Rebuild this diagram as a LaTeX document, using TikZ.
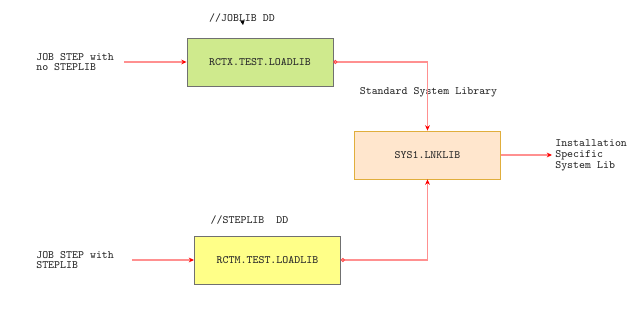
\documentclass[tikz,border=0pt]{standalone}
\usetikzlibrary{arrows.meta,positioning}
\definecolor{jlgreen}{HTML}{CFEA8D}
\definecolor{slyellow}{HTML}{FFFF88}
\definecolor{lkpeach}{HTML}{FFE6CD}
\definecolor{lkgold}{HTML}{E0AE3C}
\definecolor{boxgray}{HTML}{707070}
\definecolor{linkred}{HTML}{FF9090}
\definecolor{txtgray}{HTML}{2A2A2A}

\begin{document}
\begin{tikzpicture}[x=0.025cm, y=-0.025cm,
  every node/.style={font=\ttfamily\fontsize{8}{7.2}\selectfont, text=txtgray},
  libbox/.style={draw=boxgray, line width=0.6pt, minimum width=3.65cm, minimum height=1.2cm, align=center},
  note/.style={inner sep=0pt, align=left},
  arr/.style={-{Stealth[red,length=3.8pt,width=3.4pt]}, linkred, line width=0.75pt},
  link/.style={{Circle[open,red!70,length=2.8pt,width=2.8pt]}-{Stealth[red,length=3.8pt,width=3.4pt]}, linkred, line width=0.75pt}
]
\useasboundingbox (0,0) rectangle (640,315);

% libraries
\node[libbox, fill=jlgreen] (joblib) at (260,62) {RCTX.TEST.LOADLIB};
\node[libbox, fill=lkpeach, draw=lkgold] (lnklib) at (427.5,155) {SYS1.LNKLIB};
\node[libbox, fill=slyellow] (steplib) at (267.5,260) {RCTM.TEST.LOADLIB};

% labels
\node[note] (jldd) at (242,18) {//JOBLIB DD};
\node[note] (sldd) at (249.5,220) {//STEPLIB\ \ DD};
\node[note] (stdlib) at (428.5,92) {Standard System Library};
\node[note, anchor=west, font=\ttfamily\fontsize{8}{7.9}\selectfont] (instlib) at (555,155) {Installation\\Specific\\System Lib};
\node[note, anchor=west] (step1) at (36,62) {JOB STEP with\\no STEPLIB};
\node[note, anchor=west] (step2) at (36,260) {JOB STEP with\\STEPLIB};
\coordinate (jltip) at (243,25);

% connectors
\draw[-{Triangle[black,length=2.8pt,width=2.8pt]}, black, shorten <=2.8pt] (jldd.center) -- (jltip);
\draw[arr, shorten <=7pt] (step1.east) -- (joblib.west);
\draw[arr, shorten <=12.8pt] (step2.east) -- (steplib.west);
\draw[link] (joblib.east) -| (lnklib.north);
\draw[link] (steplib.east) -| (lnklib.south);
\draw[arr, shorten >=2.1pt] (lnklib.east) -- (instlib.west);
\end{tikzpicture}
\end{document}
